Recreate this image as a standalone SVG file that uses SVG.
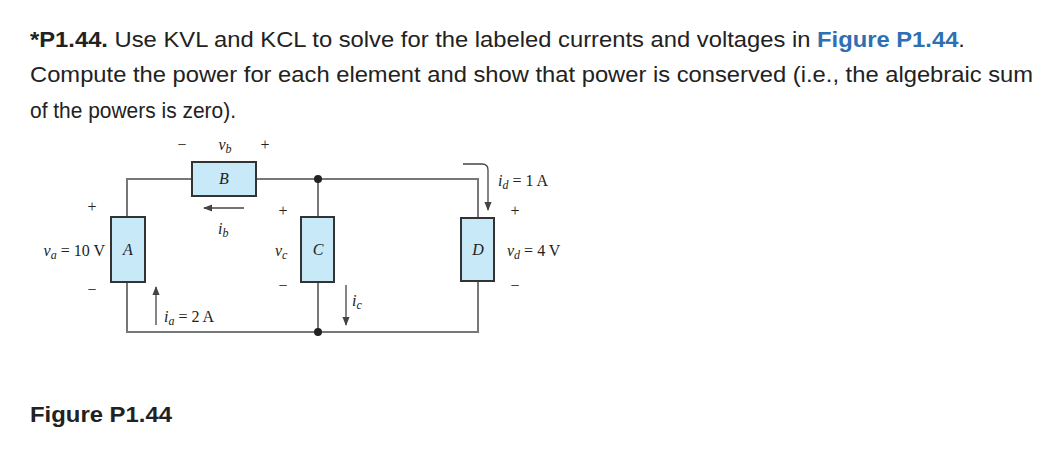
<svg xmlns="http://www.w3.org/2000/svg" width="1057" height="473" viewBox="0 0 1057 473">
<style>
.t{font-family:"Liberation Sans",Arial,sans-serif;font-size:22px;fill:#222}
.b{font-weight:bold}
.l{fill:#2f6fb3}
.s{font-family:"Liberation Serif","Times New Roman",serif;font-size:16px;fill:#222}
.w{stroke:#777;stroke-width:2;fill:none}
.box{fill:#c8e9f8;stroke:#333;stroke-width:2}
.ar{stroke:#444;stroke-width:1.3;fill:none;marker-end:url(#ah)}
</style>
<defs><marker id="ah" viewBox="0 0 10 10" refX="9" refY="5" markerWidth="7" markerHeight="7" orient="auto"><path d="M0,1 L10,5 L0,9 z" fill="#444"/></marker></defs>
<rect width="1057" height="473" fill="#fff"/>
<text class="t" x="30" y="47" textLength="935" lengthAdjust="spacingAndGlyphs"><tspan class="b">*P1.44.</tspan> Use KVL and KCL to solve for the labeled currents and voltages in <tspan class="b l">Figure P1.44</tspan>.</text>
<text class="t" x="30" y="82" textLength="1003" lengthAdjust="spacingAndGlyphs">Compute the power for each element and show that power is conserved (i.e., the algebraic sum</text>
<text class="t" x="30" y="118" textLength="206" lengthAdjust="spacingAndGlyphs">of the powers is zero).</text>
<text class="t b" x="30" y="422" textLength="142" lengthAdjust="spacingAndGlyphs">Figure P1.44</text>
<g id="connectors">
<path class="w" d="M127,217 V179 H192 M256,179 H478 V218 M478,281 V332 H127 V282"/>
<path class="w" d="M318,179 V217 M318,282 V332"/>
<circle cx="318" cy="179" r="4" fill="#222"/><circle cx="318" cy="332" r="4" fill="#222"/>
<path class="ar" d="M244,208 H204"/>
<path class="ar" d="M156,325 V287"/>
<path class="ar" d="M346,285 V325"/>
<path class="ar" d="M463,164 H482 Q488,164 488,170 V210"/>
</g>
<g id="A"><rect class="box" x="111" y="217" width="34" height="65"/><text class="s" x="128" y="255" text-anchor="middle" font-style="italic">A</text></g>
<g id="B"><rect class="box" x="192" y="162" width="64" height="34"/><text class="s" x="224" y="184" text-anchor="middle" font-style="italic">B</text></g>
<g id="C"><rect class="box" x="301" y="217" width="33" height="65"/><text class="s" x="318" y="255" text-anchor="middle" font-style="italic">C</text></g>
<g id="D"><rect class="box" x="461" y="218" width="33" height="63"/><text class="s" x="478" y="255" text-anchor="middle" font-style="italic">D</text></g>
<g id="labels" class="s">
<text x="92" y="212" text-anchor="middle">+</text><text x="92" y="295" text-anchor="middle">−</text>
<text x="105" y="256" text-anchor="end"><tspan font-style="italic">v</tspan><tspan font-style="italic" font-size="12" dy="3">a</tspan><tspan dy="-3"> = 10 V</tspan></text>
<text x="182" y="150" text-anchor="middle">−</text><text x="225" y="150" text-anchor="middle"><tspan font-style="italic">v</tspan><tspan font-style="italic" font-size="12" dy="3">b</tspan></text><text x="265" y="150" text-anchor="middle">+</text>
<text x="218" y="234"><tspan font-style="italic">i</tspan><tspan font-style="italic" font-size="12" dy="3">b</tspan></text>
<text x="164" y="322"><tspan font-style="italic">i</tspan><tspan font-style="italic" font-size="12" dy="3">a</tspan><tspan dy="-3"> = 2 A</tspan></text>
<text x="283" y="216" text-anchor="middle">+</text><text x="283" y="291" text-anchor="middle">−</text>
<text x="275" y="256"><tspan font-style="italic">v</tspan><tspan font-style="italic" font-size="12" dy="3">c</tspan></text>
<text x="352" y="306"><tspan font-style="italic">i</tspan><tspan font-style="italic" font-size="12" dy="3">c</tspan></text>
<text x="498" y="186"><tspan font-style="italic">i</tspan><tspan font-style="italic" font-size="12" dy="3">d</tspan><tspan dy="-3"> = 1 A</tspan></text>
<text x="515" y="216" text-anchor="middle">+</text><text x="515" y="291" text-anchor="middle">−</text>
<text x="507" y="256"><tspan font-style="italic">v</tspan><tspan font-style="italic" font-size="12" dy="3">d</tspan><tspan dy="-3"> = 4 V</tspan></text>
</g>
</svg>
